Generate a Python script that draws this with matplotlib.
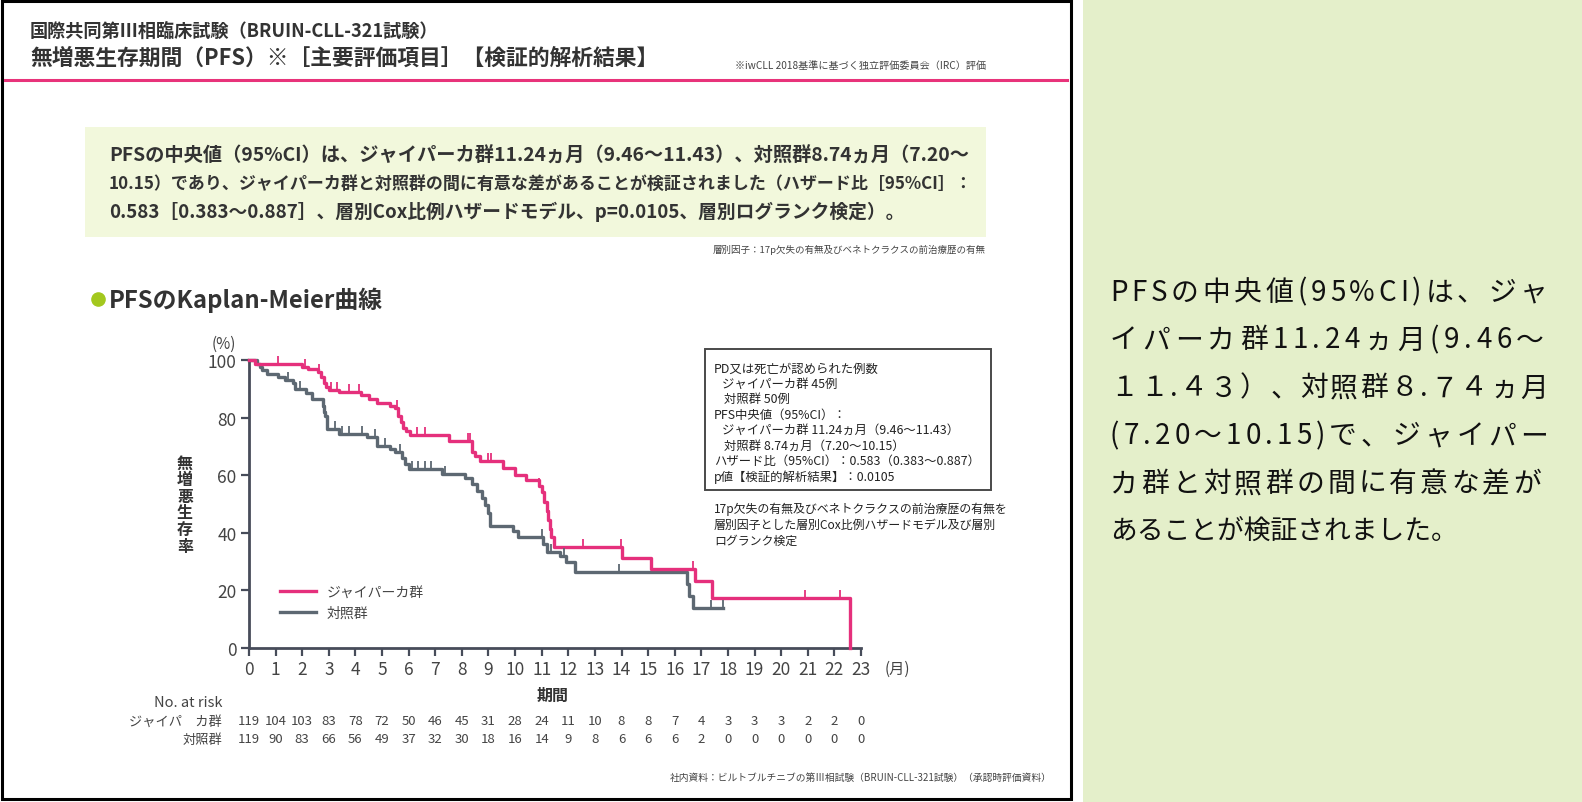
import numpy as np
import matplotlib
matplotlib.use("Agg")
import matplotlib.pyplot as plt
from matplotlib.patches import Rectangle
from matplotlib.lines import Line2D

plt.rcParams['font.family'] = ['Noto Sans CJK JP', 'DejaVu Sans']

# --- data ---
months = list(range(24))
risk_jaypirca = [119, 104, 103, 83, 78, 72, 50, 46, 45, 31, 28, 24, 11, 10, 8, 8, 7, 4, 3, 3, 3, 2, 2, 0]
risk_control = [119, 90, 83, 66, 56, 49, 37, 32, 30, 18, 16, 14, 9, 8, 6, 6, 6, 2, 0, 0, 0, 0, 0, 0]

jay_t = [0, 0.22, 2.0, 2.2, 2.6, 2.7, 2.8, 2.9, 3.0, 3.4, 4.2, 4.5, 4.8, 5.3, 5.5, 5.6, 5.7, 5.8,
         5.9, 6.05, 7.5, 8.37, 8.5, 8.7, 9.55, 10.0, 10.4, 10.9, 11.0, 11.1, 11.2, 11.25, 11.3,
         11.35, 11.45, 14.0, 15.1, 16.75, 17.4, 22.57]
jay_s = [100, 98.6, 97.6, 96.8, 95.7, 94, 92, 90.5, 89.6, 88.9, 87.8, 86.5, 85.2, 84.2, 83.2, 80.5,
         78.5, 76.5, 75.5, 74, 72, 68, 66.6, 65, 62.5, 60.1, 58.5, 56.4, 54, 50.6, 47.7, 44.5, 41.3,
         38.4, 35.2, 31.2, 27.6, 23.4, 17.3, 0]
jay_cens = [1.08, 2.1, 2.63, 3.07, 3.3, 3.76, 4.14, 5.55, 6.3, 6.6, 8.22, 8.3, 9.0, 9.1, 10.9,
            12.54, 13.97, 16.7, 20.9, 22.2]

ctl_t = [0, 0.29, 0.4, 0.5, 0.66, 1.1, 1.35, 1.66, 1.73, 2.16, 2.35, 2.78, 2.83, 2.87, 2.92, 3.4,
         4.42, 4.8, 5.3, 5.5, 5.75, 5.85, 6.0, 7.24, 8.12, 8.37, 8.55, 8.74, 8.86, 9.0, 9.05, 9.93,
         10.1, 11.06, 11.2, 11.7, 11.9, 12.25, 16.45, 16.55, 16.7, 17.8]
ctl_s = [100, 98.6, 97.6, 96.6, 95.1, 94, 93, 92, 89.9, 88.7, 86.4, 84, 82, 80.5, 76, 74.4, 73.3,
         70.3, 69.1, 68, 66, 63.9, 62.2, 60.4, 59, 56.9, 54.5, 52, 49.5, 47, 42.5, 40.7, 38.4, 36.1,
         33.4, 32, 29.7, 26.4, 22.2, 18.2, 13.9, 13.9]
ctl_cens = [1.47, 1.92, 3.23, 3.48, 3.76, 4.25, 4.74, 5.1, 5.68, 6.12, 6.37, 6.62, 6.84, 7.37,
            8.58, 11.0, 11.34, 11.84, 13.9, 17.35, 17.8]

PINK = '#e5307c'
GRAY = '#5d6872'
AXC = '#474c5a'
TXT = '#333333'

W, H = 1582, 803
fig = plt.figure(figsize=(W / 100, H / 100), dpi=100)
renderer = fig.canvas.get_renderer()


def fx(x):
    return x / W


def fy(y):
    return 1 - y / H


def rect(x0, y0, x1, y1, **kw):
    r = Rectangle((fx(x0), fy(y1)), (x1 - x0) / W, (y1 - y0) / H, transform=fig.transFigure, **kw)
    fig.add_artist(r)
    return r


def txt(x, y, s, size, width=None, **kw):
    kw.setdefault('va', 'center')
    kw.setdefault('color', TXT)
    t = fig.text(fx(x), fy(y), s, fontsize=size, **kw)
    if width:
        bb = t.get_window_extent(renderer)
        t.set_fontsize(size * width / bb.width)
    return t


def justify(x, y, s, size, width, **kw):
    # spread the characters of one line evenly over width (px)
    parts = [txt(x, y, c, size, **kw) for c in s]
    ws = [p.get_window_extent(renderer).width for p in parts]
    gap = (width - sum(ws)) / (len(parts) - 1)
    xx = x
    for p, w in zip(parts, ws):
        p.set_x(fx(xx))
        xx += w + gap


# panels
rect(1083, 0, 1582, 803, facecolor='#e4efca', edgecolor='none', zorder=0)
rect(2, 2, 1071, 800, facecolor='none', edgecolor='black', lw=2.2)

# header
txt(30, 31, '国際共同第Ⅲ相臨床試験（BRUIN-CLL-321試験）', 11, width=409, fontweight='bold')
txt(30, 58, '無増悪生存期間（PFS）※［主要評価項目］【検証的解析結果】', 15, width=631, fontweight='bold')
txt(735, 66, '※iwCLL 2018基準に基づく独立評価委員会（IRC）評価', 7, width=251, color='#444444')
fig.add_artist(Line2D([fx(5), fx(1067)], [fy(81), fy(81)], color='#e8337a', lw=2.2))

# summary box
rect(85, 128, 986, 238, facecolor='#f2f8dc', edgecolor='none')
summary = ['PFSの中央値（95%CI）は、ジャイパーカ群11.24ヵ月（9.46～11.43）、対照群8.74ヵ月（7.20～',
           '10.15）であり、ジャイパーカ群と対照群の間に有意な差があることが検証されました（ハザード比［95%CI］：',
           '0.583［0.383～0.887］、層別Cox比例ハザードモデル、p=0.0105、層別ログランク検定）。']
for line, yy, ww in zip(summary, [156, 184, 212], [858, 862, 792]):
    txt(109, yy, line, 12, width=ww, fontweight='bold')
txt(986, 250, '層別因子：17p欠失の有無及びベネトクラクスの前治療歴の有無', 7, width=274, ha='right', color='#444444')

# section heading
fig.add_artist(Line2D([fx(98)], [fy(300)], marker='o', markersize=9.5, color='#a3c81e', ls='none'))
txt(109, 300, 'PFSのKaplan-Meier曲線', 13, width=274, fontweight='bold')

# KM axes
x0, x1, ytop, ybot = 249, 861, 361, 649
ax = fig.add_axes([fx(x0), fy(ybot), (x1 - x0) / W, (ybot - ytop) / H])
ax.set_facecolor('none')
ax.step(jay_t, jay_s, where='post', color=PINK, lw=2.4, clip_on=False, zorder=3, label='ジャイパーカ群')
ax.step(ctl_t, ctl_s, where='post', color=GRAY, lw=2.4, clip_on=False, zorder=2, label='対照群')

tick_marker = [(0, 0), (0, 1)]
for t_arr, s_arr, cens, col in [(jay_t, jay_s, jay_cens, PINK), (ctl_t, ctl_s, ctl_cens, GRAY)]:
    idx = np.searchsorted(t_arr, cens, side='right') - 1
    ax.plot(cens, np.array(s_arr)[idx], ls='none', marker=tick_marker, markersize=11,
            markeredgewidth=1.3, color=col, clip_on=False, zorder=3)

ax.set_xlim(0, 23)
ax.set_ylim(0, 100)
ax.set_xticks(months)
ax.set_yticks([0, 20, 40, 60, 80, 100])
for sp in ['top', 'right']:
    ax.spines[sp].set_visible(False)
for sp in ['left', 'bottom']:
    ax.spines[sp].set_color(AXC)
    ax.spines[sp].set_linewidth(2)
ax.tick_params(axis='both', length=6, width=1.6, color=AXC, labelsize=12.5, labelcolor='#444444', pad=3)

ax.legend(loc='upper left', bbox_to_anchor=(fx(280), fy(586)), bbox_transform=fig.transFigure,
          frameon=False, fontsize=10, handlelength=2.6, handletextpad=0.75, labelspacing=0.5,
          borderpad=0, borderaxespad=0, labelcolor='#444444')

txt(224, 344, '(%)', 11, ha='center', color='#444444')
txt(897, 669, '(月)', 11, ha='center', color='#444444')
txt(185, 505, '\n'.join('無増悪生存率'), 11.5, ha='center', fontweight='bold', linespacing=1.05)
txt(553, 696, '期間', 11.5, ha='center', fontweight='bold')

# number at risk
txt(222, 703, 'No. at risk', 10.5, ha='right', color='#444444')
txt(222, 722, 'ジャイパ　カ群', 9.5, ha='right', color='#444444')
txt(222, 740, '対照群', 9.5, ha='right', color='#444444')
for m, a, b in zip(months, risk_jaypirca, risk_control):
    xp = x0 + (x1 - x0) * m / 23
    txt(xp, 722, str(a), 9.5, ha='center', color='#444444')
    txt(xp, 740, str(b), 9.5, ha='center', color='#444444')

# stats box
rect(705, 350, 991, 491, facecolor='white', edgecolor='#4a4a4a', lw=1.4)
stats = [('PD又は死亡が認められた例数', 714),
         ('ジャイパーカ群 45例', 722),
         ('対照群 50例', 724),
         ('PFS中央値（95%CI）：', 714),
         ('ジャイパーカ群 11.24ヵ月（9.46～11.43）', 722),
         ('対照群 8.74ヵ月（7.20～10.15）', 724),
         ('ハザード比（95%CI）：0.583（0.383～0.887）', 714),
         ('p値【検証的解析結果】：0.0105', 714)]
for i, (s, xx) in enumerate(stats):
    txt(xx, 369 + i * 15.4, s, 8.9, color='#222222')
notes = ['17p欠失の有無及びベネトクラクスの前治療歴の有無を',
         '層別因子とした層別Cox比例ハザードモデル及び層別',
         'ログランク検定']
for i, s in enumerate(notes):
    txt(714, 509.5 + i * 15.7, s, 8.6, color='#222222')

txt(1052, 778, '社内資料：ビルトブルチニブの第Ⅲ相試験（BRUIN-CLL-321試験）（承認時評価資料）', 7, width=383,
    ha='right', color='#444444')

# right panel
right = ['PFSの中央値(95%CI)は、ジャ',
         'イパーカ群11.24ヵ月(9.46～',
         '１１.４３）、対照群８.７４ヵ月',
         '(7.20～10.15)で、ジャイパー',
         'カ群と対照群の間に有意な差が']
right_w = [438, 434, 438, 438, 431]
for i, (s, ww) in enumerate(zip(right, right_w)):
    justify(1110, 292.6 + i * 47.9, s, 20, ww, color='#111111')
txt(1110, 292.6 + 5 * 47.9, 'あることが検証されました。', 20, width=348, color='#111111')

fig.savefig('out.png', dpi=100)
